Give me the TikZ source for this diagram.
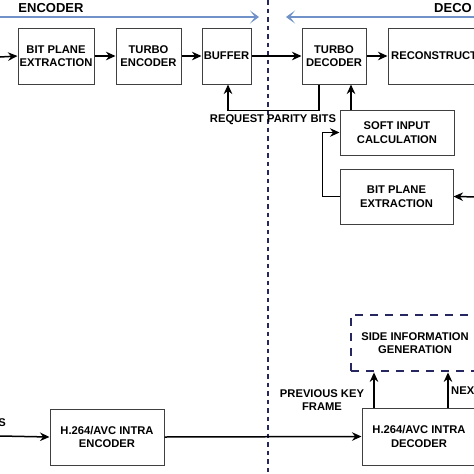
\documentclass[tikz,border=0pt]{standalone}
\usepackage{fontspec}
\setmainfont{Liberation Sans}
\usetikzlibrary{arrows.meta}
\definecolor{sideblue}{RGB}{112,146,200}
\definecolor{splitnavy}{RGB}{38,38,96}
\tikzset{
  blk/.style={draw=black!75,line width=1pt,align=center,inner sep=0pt,
    font=\bfseries\fontsize{11.2}{13.5}\selectfont},
  lbl/.style={align=center,inner sep=0pt,font=\bfseries\fontsize{11.2}{13.5}\selectfont},
  ttl/.style={inner sep=0pt,font=\bfseries\fontsize{13}{15}\selectfont},
  flow/.style={->,line width=1.5pt},
  sidearrow/.style={-{Stealth[length=9pt,width=13pt,inset=5pt]},draw=sideblue,line width=2pt}
}
\begin{document}
\begin{tikzpicture}[x=1pt,y=-1pt,>={Stealth[length=9.5pt,width=8.5pt]}]
\useasboundingbox (0,0) rectangle (474,474);
\clip (0,0) rectangle (474,474);
\fill[white] (0,0) rectangle (474,474);

% encoder / decoder split
\coordinate (splittop) at (268,0);
\coordinate (splitbot) at (268,474);
\draw[splitnavy,line width=1.8pt,dash pattern=on 4.5pt off 4pt] (splittop) -- (splitbot);

\node[ttl] (enctitle) at (51,8) {ENCODER};
\node[ttl,anchor=west] (dectitle) at (434,8) {DECO};
\coordinate (encfrom) at (-5,17);
\coordinate (encto) at (259,17);
\coordinate (decfrom) at (480,17);
\coordinate (decto) at (286,17);
\draw[sidearrow] (encfrom) -- (encto);
\draw[sidearrow] (decfrom) -- (decto);

% Wyner-Ziv path
\node[blk,minimum width=76pt,minimum height=56pt] (bpe) at (56,56) {BIT PLANE\\EXTRACTION};
\node[blk,minimum width=65pt,minimum height=56pt] (tenc) at (148.5,56) {TURBO\\ENCODER};
\node[blk,minimum width=49pt,minimum height=56pt] (buf) at (226.5,56) {BUFFER};
\node[blk,minimum width=64pt,minimum height=56pt] (tdec) at (334,56) {TURBO\\DECODER};
\node[blk,minimum width=110pt,minimum height=56pt] (rec) at (443,56) {};
\node[lbl,anchor=west] (rectext) at (391,56) {RECONSTRUCT};
\node[blk,minimum width=114pt,minimum height=45pt] (soft) at (397,132.5) {SOFT INPUT\\CALCULATION};
\node[blk,minimum width=113pt,minimum height=55pt] (bpedec) at (396.5,196.5) {BIT PLANE\\EXTRACTION};
\node[lbl] (req) at (273,120) {REQUEST PARITY BITS};

\coordinate (wzin) at (0,57);
\coordinate (siin) at (480,197);
\draw[flow] (wzin) -- (bpe.west);
\draw[flow] (bpe) -- (tenc);
\draw[flow] (tenc) -- (buf);
\draw[flow] (buf) -- (tdec);
\draw[flow] (tdec) -- (rec);
\draw[flow] ([xshift=-15pt]tdec.south) -- ++(0,26) -| ([xshift=1.5pt]buf.south);
\draw[flow] ([xshift=-46pt]soft.north) -- ([xshift=-46pt]soft.north |- tdec.south);
\draw[flow] (bpedec.west) -- ++(-17,0) |- (soft.west);
\draw[flow] (siin) -- (bpedec.east);

% key frame path
\node[blk,minimum width=114pt,minimum height=56pt] (h264enc) at (107,437) {H.264/AVC INTRA\\ENCODER};
\node[blk,minimum width=114pt,minimum height=57pt] (h264dec) at (419,436.5) {H.264/AVC INTRA\\DECODER};
\node[blk,draw=splitnavy,line width=2.8pt,dash pattern=on 8pt off 7pt,minimum width=128pt,minimum height=56pt] (sig) at (415,343) {SIDE INFORMATION\\GENERATION};
\node[lbl,anchor=east] (keyin) at (6,423) {S};
\node[lbl] (prevkey) at (322,400) {PREVIOUS KEY\\FRAME};
\node[lbl,anchor=west] (nextkey) at (451,391) {NEX};

\coordinate (kfin) at (0,436);
\draw[flow] (kfin) -- (h264enc.west);
\draw[flow] (h264enc.east) -- (h264dec.west);
\draw[flow] ([xshift=-45pt]h264dec.north) -- ([xshift=-45pt]h264dec.north |- sig.south);
\draw[flow] ([xshift=29pt]h264dec.north) -- ([xshift=29pt]h264dec.north |- sig.south);
\end{tikzpicture}
\end{document}
